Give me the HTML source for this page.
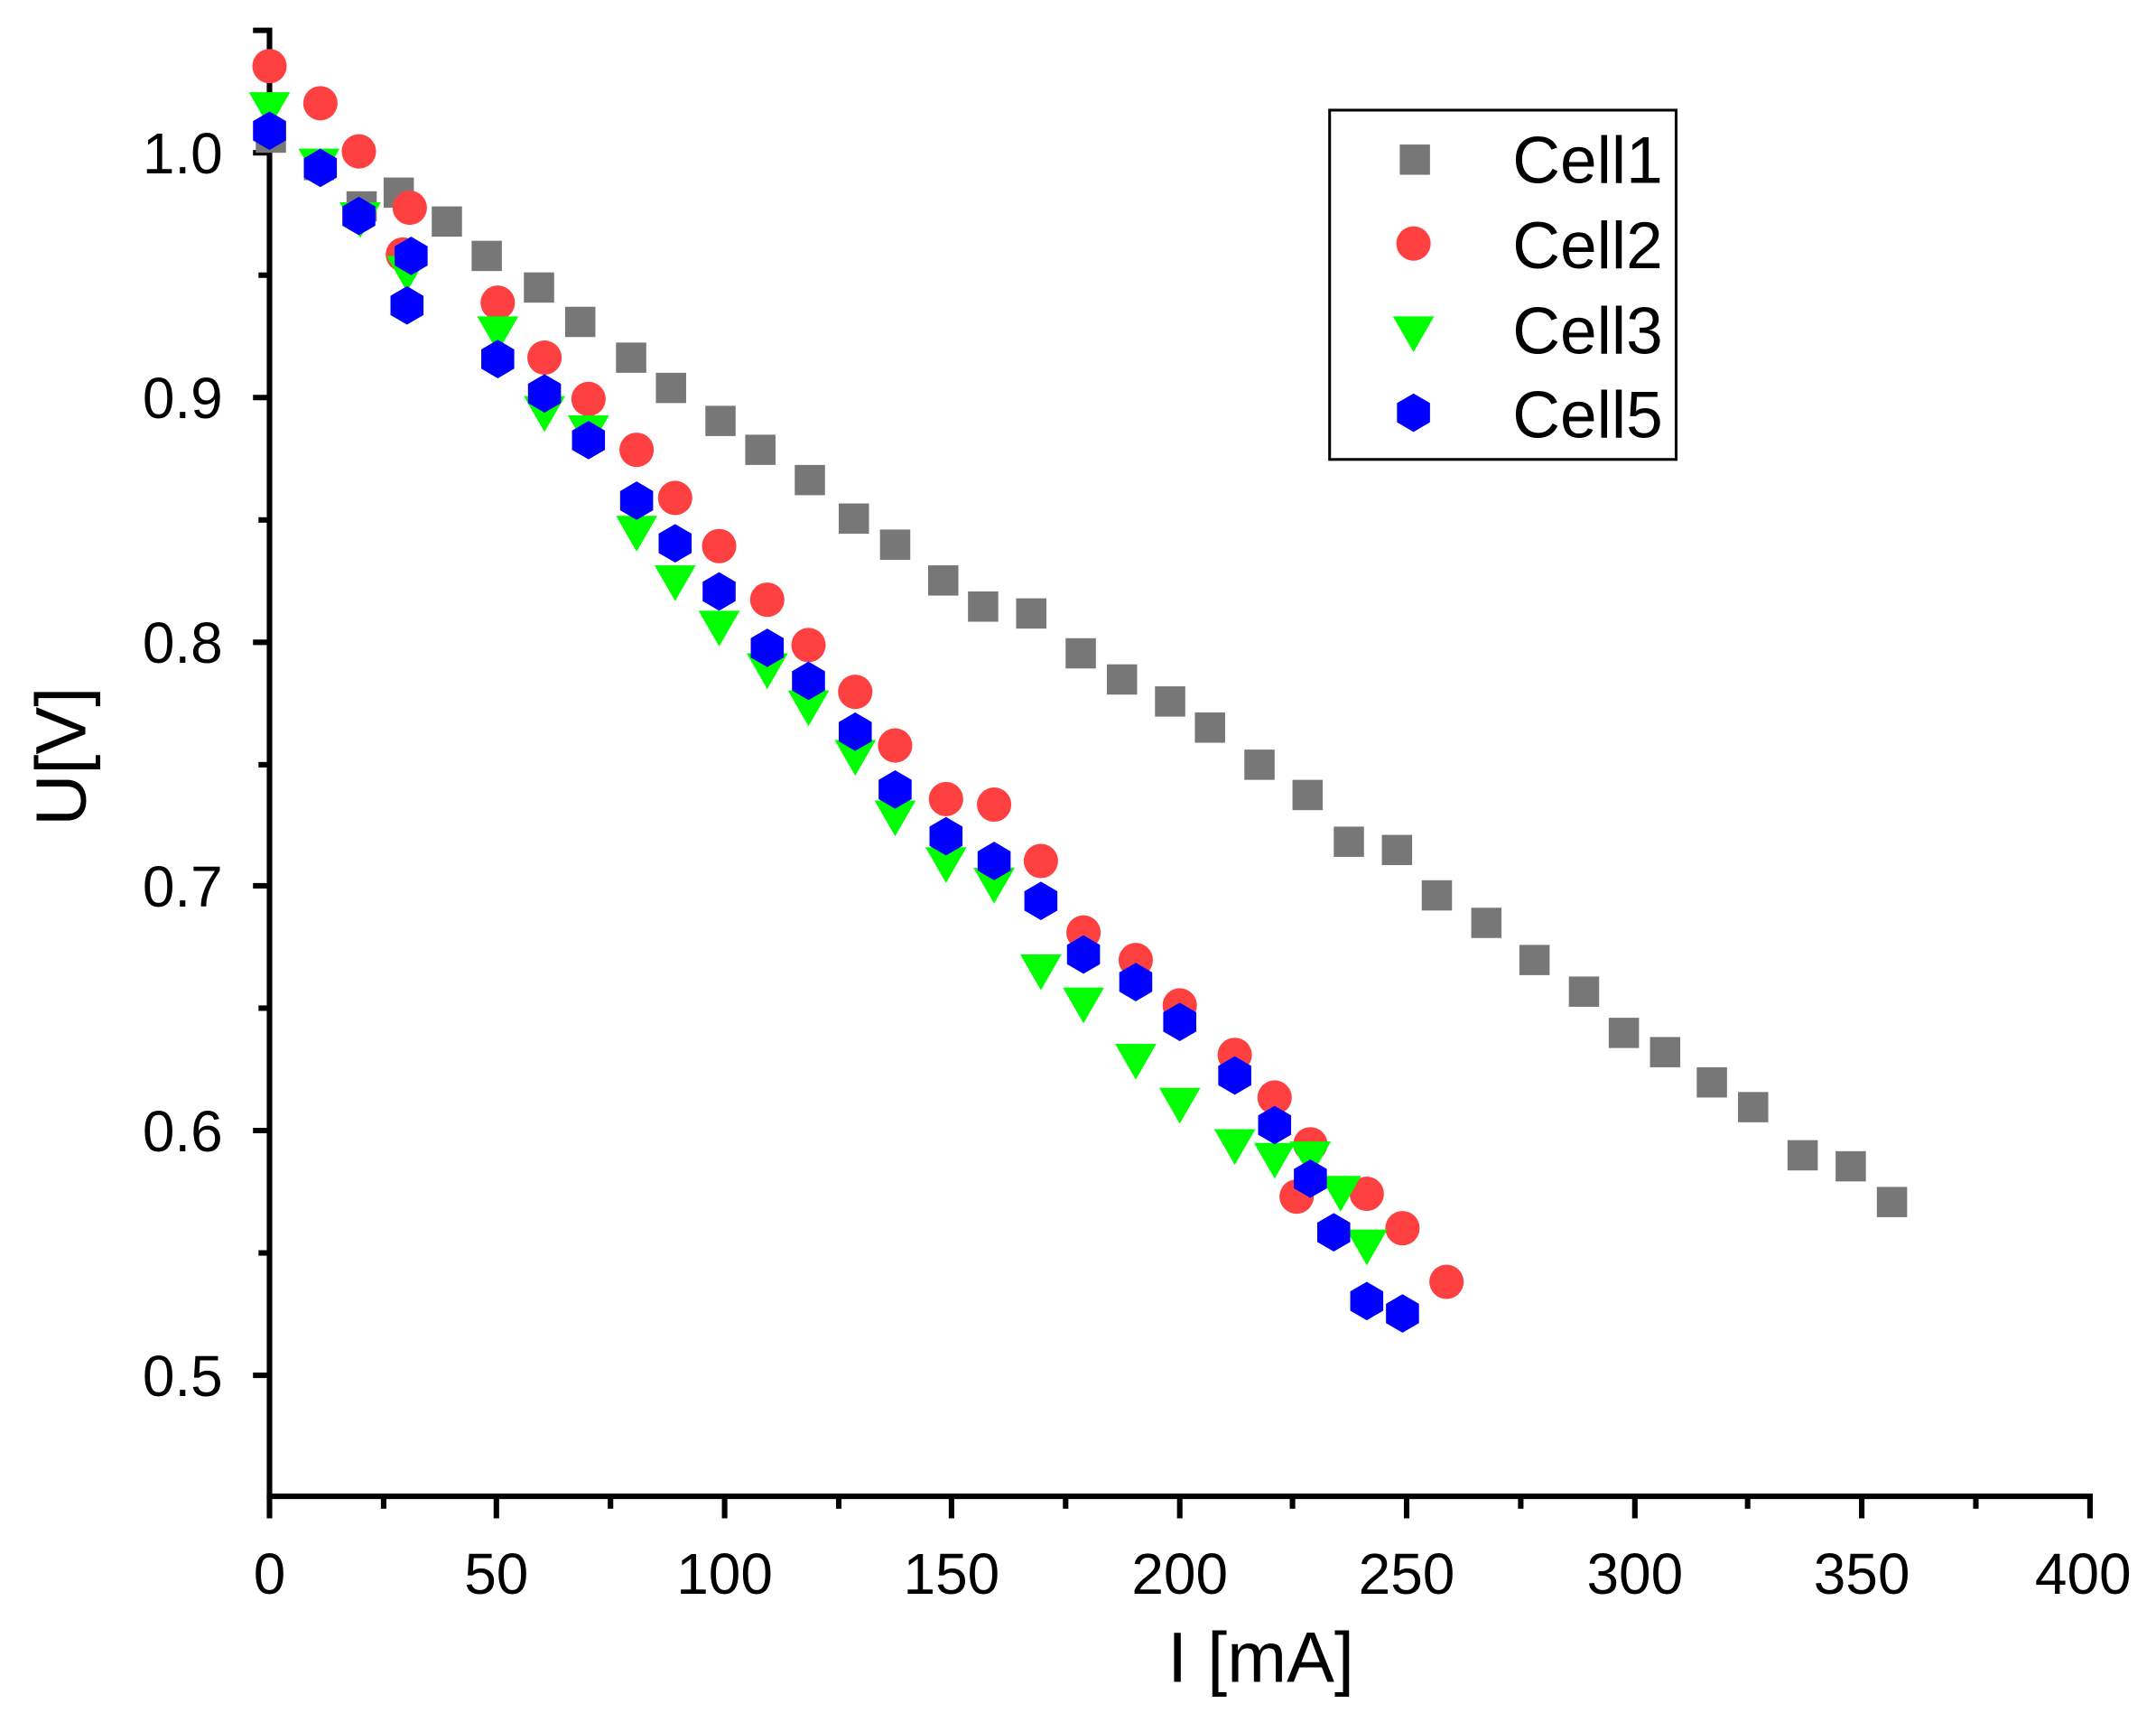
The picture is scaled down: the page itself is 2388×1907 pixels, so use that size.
<!DOCTYPE html>
<html><head><meta charset="utf-8"><style>html,body{margin:0;padding:0;background:#fff}svg{display:block}</style></head>
<body>
<svg width="2388" height="1907" viewBox="0 0 1568 1252" xmlns="http://www.w3.org/2000/svg" font-family="Liberation Sans, sans-serif">
<defs>
<rect id="sq" x="-11" y="-11" width="22" height="22" fill="#777"/>
<circle id="ci" r="12.5" fill="#ff4040"/>
<polygon id="tr" points="-15,-10 15,-10 0,16" fill="#00ff00"/>
<polygon id="hx" points="0,-14 12,-7 12,7 0,14 -12,7 -12,-7" fill="#0000ff"/>
</defs>
<g stroke="#000" stroke-width="4" fill="none">
<line x1="196" y1="20" x2="196" y2="1090"/>
<line x1="194" y1="1088" x2="1522" y2="1088"/>
<line x1="184" y1="111" x2="196" y2="111"/><line x1="184" y1="289" x2="196" y2="289"/><line x1="184" y1="467" x2="196" y2="467"/><line x1="184" y1="644" x2="196" y2="644"/><line x1="184" y1="822" x2="196" y2="822"/><line x1="184" y1="1000" x2="196" y2="1000"/>
<line x1="184" y1="22" x2="196" y2="22"/>
<line x1="188" y1="200" x2="196" y2="200"/><line x1="188" y1="378" x2="196" y2="378"/><line x1="188" y1="556" x2="196" y2="556"/><line x1="188" y1="733" x2="196" y2="733"/><line x1="188" y1="911" x2="196" y2="911"/>
<line x1="196" y1="1088" x2="196" y2="1104"/><line x1="361" y1="1088" x2="361" y2="1104"/><line x1="527" y1="1088" x2="527" y2="1104"/><line x1="692" y1="1088" x2="692" y2="1104"/><line x1="858" y1="1088" x2="858" y2="1104"/><line x1="1023" y1="1088" x2="1023" y2="1104"/><line x1="1189" y1="1088" x2="1189" y2="1104"/><line x1="1354" y1="1088" x2="1354" y2="1104"/><line x1="1520" y1="1088" x2="1520" y2="1104"/>
<line x1="279" y1="1088" x2="279" y2="1097"/><line x1="444" y1="1088" x2="444" y2="1097"/><line x1="610" y1="1088" x2="610" y2="1097"/><line x1="775" y1="1088" x2="775" y2="1097"/><line x1="940" y1="1088" x2="940" y2="1097"/><line x1="1106" y1="1088" x2="1106" y2="1097"/><line x1="1271" y1="1088" x2="1271" y2="1097"/><line x1="1437" y1="1088" x2="1437" y2="1097"/>
</g>
<g font-size="42" fill="#000" text-anchor="end">
<text x="162" y="126">1.0</text><text x="162" y="304">0.9</text><text x="162" y="482">0.8</text><text x="162" y="659">0.7</text><text x="162" y="837">0.6</text><text x="162" y="1015">0.5</text>
</g>
<g font-size="42" fill="#000" text-anchor="middle">
<text x="196" y="1159">0</text><text x="361" y="1159">50</text><text x="527" y="1159">100</text><text x="692" y="1159">150</text><text x="858" y="1159">200</text><text x="1023" y="1159">250</text><text x="1189" y="1159">300</text><text x="1354" y="1159">350</text><text x="1515" y="1159">400</text>
</g>
<text x="917" y="1223" font-size="52" text-anchor="middle">I [mA]</text>
<text transform="translate(62,550) rotate(-90)" font-size="52" text-anchor="middle">U[V]</text>
<g>
<use href="#sq" x="197" y="100"/><use href="#sq" x="232" y="120"/><use href="#sq" x="263" y="150"/>
<use href="#sq" x="290" y="140"/><use href="#sq" x="325" y="161"/><use href="#sq" x="354" y="186"/><use href="#sq" x="392" y="209"/><use href="#sq" x="422" y="234"/><use href="#sq" x="459" y="260"/><use href="#sq" x="488" y="282"/><use href="#sq" x="524" y="306"/><use href="#sq" x="553" y="327"/><use href="#sq" x="589" y="349"/><use href="#sq" x="621" y="377"/><use href="#sq" x="651" y="396"/><use href="#sq" x="686" y="422"/><use href="#sq" x="715" y="441"/><use href="#sq" x="750" y="446"/><use href="#sq" x="786" y="475"/><use href="#sq" x="816" y="494"/><use href="#sq" x="851" y="510"/><use href="#sq" x="880" y="529"/><use href="#sq" x="916" y="556"/><use href="#sq" x="951" y="578"/><use href="#sq" x="981" y="612"/><use href="#sq" x="1016" y="618"/><use href="#sq" x="1045" y="651"/><use href="#sq" x="1081" y="671"/><use href="#sq" x="1116" y="698"/><use href="#sq" x="1152" y="721"/><use href="#sq" x="1181" y="751"/><use href="#sq" x="1211" y="765"/><use href="#sq" x="1245" y="787"/><use href="#sq" x="1275" y="805"/><use href="#sq" x="1311" y="840"/><use href="#sq" x="1346" y="848"/><use href="#sq" x="1376" y="874"/>
</g>
<g>
<use href="#ci" x="196" y="48"/><use href="#ci" x="233" y="75"/><use href="#ci" x="261" y="110"/><use href="#ci" x="298" y="151"/><use href="#ci" x="293" y="185"/><use href="#ci" x="362" y="220"/><use href="#ci" x="396" y="260"/><use href="#ci" x="428" y="290"/><use href="#ci" x="463" y="327"/><use href="#ci" x="491" y="362"/><use href="#ci" x="523" y="397"/><use href="#ci" x="558" y="436"/><use href="#ci" x="588" y="469"/><use href="#ci" x="622" y="503"/><use href="#ci" x="651" y="542"/><use href="#ci" x="688" y="581"/><use href="#ci" x="723" y="585"/><use href="#ci" x="757" y="626"/><use href="#ci" x="788" y="678"/><use href="#ci" x="826" y="698"/><use href="#ci" x="858" y="731"/><use href="#ci" x="898" y="767"/><use href="#ci" x="927" y="798"/><use href="#ci" x="953" y="832"/><use href="#ci" x="943" y="870"/><use href="#ci" x="994" y="868"/><use href="#ci" x="1020" y="893"/><use href="#ci" x="1052" y="932"/>
</g>
<g>
<use href="#tr" x="196" y="77"/><use href="#tr" x="232" y="118"/><use href="#tr" x="262" y="157"/><use href="#tr" x="296" y="196"/><use href="#tr" x="362" y="240"/><use href="#tr" x="396" y="298"/><use href="#tr" x="428" y="312"/><use href="#tr" x="463" y="385"/><use href="#tr" x="491" y="421"/><use href="#tr" x="523" y="454"/><use href="#tr" x="558" y="485"/><use href="#tr" x="588" y="512"/><use href="#tr" x="622" y="548"/><use href="#tr" x="651" y="592"/><use href="#tr" x="688" y="626"/><use href="#tr" x="723" y="641"/><use href="#tr" x="757" y="704"/><use href="#tr" x="788" y="728"/><use href="#tr" x="826" y="769"/><use href="#tr" x="858" y="801"/><use href="#tr" x="898" y="831"/><use href="#tr" x="927" y="841"/><use href="#tr" x="953" y="840"/><use href="#tr" x="975" y="865"/><use href="#tr" x="994" y="904"/>
</g>
<g>
<use href="#hx" x="196" y="95"/><use href="#hx" x="233" y="122"/><use href="#hx" x="261" y="157"/><use href="#hx" x="296" y="222"/><use href="#hx" x="299" y="186"/><use href="#hx" x="362" y="261"/><use href="#hx" x="396" y="286"/><use href="#hx" x="428" y="320"/><use href="#hx" x="463" y="364"/><use href="#hx" x="491" y="395"/><use href="#hx" x="523" y="430"/><use href="#hx" x="558" y="471"/><use href="#hx" x="588" y="495"/><use href="#hx" x="622" y="532"/><use href="#hx" x="651" y="574"/><use href="#hx" x="688" y="608"/><use href="#hx" x="723" y="626"/><use href="#hx" x="757" y="655"/><use href="#hx" x="788" y="694"/><use href="#hx" x="826" y="714"/><use href="#hx" x="858" y="743"/><use href="#hx" x="898" y="782"/><use href="#hx" x="927" y="818"/><use href="#hx" x="953" y="857"/><use href="#hx" x="970" y="896"/><use href="#hx" x="994" y="946"/><use href="#hx" x="1020" y="955"/>
</g>
<rect x="967" y="80" width="252" height="254" fill="#fff" stroke="#000" stroke-width="2"/>
<use href="#sq" x="1029" y="116"/>
<use href="#ci" x="1028" y="177"/>
<use href="#tr" x="1028" y="240"/>
<use href="#hx" x="1028" y="300"/>
<g font-size="48" fill="#000">
<text x="1100" y="133">Cell1</text><text x="1100" y="195">Cell2</text><text x="1100" y="257">Cell3</text><text x="1100" y="318">Cell5</text>
</g>
</svg>
</body></html>
